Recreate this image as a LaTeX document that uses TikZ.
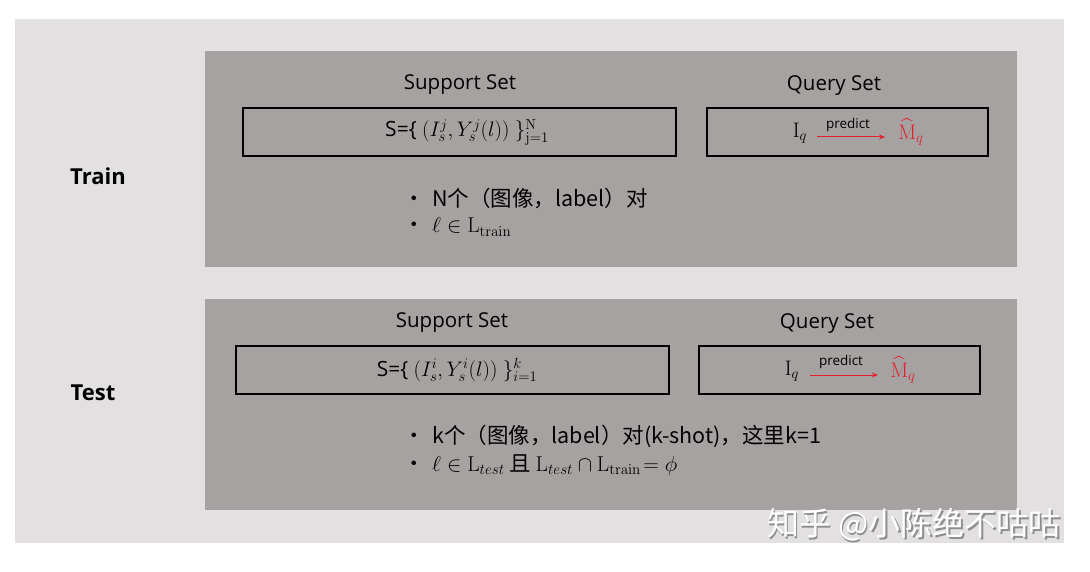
\RequirePackage{fix-cm}
\documentclass[tikz,border=0pt]{standalone}
\usepackage[no-math]{fontspec}
\setmainfont{Open Sans}
\newfontfamily\cjk{Noto Sans CJK SC}
\usepackage{amsmath}
\usetikzlibrary{arrows.meta}
\definecolor{bgout}{HTML}{E2E0E1}
\definecolor{panel}{HTML}{A6A2A1}
\definecolor{predred}{HTML}{E3202E}
\definecolor{wmshadow}{HTML}{8F8D8E}
\tikzset{
  base/.style={inner sep=0pt, text=black, font=\fontsize{20.5}{24}\selectfont},
  title/.style={base},
  mathtxt/.style={base, font=\fontsize{21}{25}\selectfont},
  rowlabel/.style={base, font=\fontsize{22}{26}\selectfont\bfseries},
  setbox/.style={draw=black, line width=2pt, fill=panel, inner sep=0pt},
  bullet/.style={base, anchor=west, font=\fontsize{21.5}{25}\selectfont\cjk},
  predarrow/.style={draw=predred, line width=1pt, -{Stealth[length=6pt,width=5pt]}},
  predlbl/.style={base, font=\fontsize{13.5}{15}\selectfont},
  wm/.style={inner sep=0pt, font=\fontsize{32}{36}\selectfont\cjk},
}
\begin{document}
\begin{tikzpicture}[x=1pt,y=-1pt]
\useasboundingbox (0,0) rectangle (1090,572);
\fill[white] (0,0) rectangle (1090,572);
\fill[bgout] (15,19) rectangle (1064,543);
% panels
\fill[panel] (205,51) rectangle (1017,267);
\fill[panel] (205,299) rectangle (1017,510);
% row labels
\node[rowlabel] (train) at (98,176) {Train};
\node[rowlabel] (test) at (93,393) {Test};
% ---- Train panel
\node[title] (trsuptitle) at (460,85) {Support Set};
\node[title] (trqtitle) at (834,86) {Query Set};
\node[setbox, minimum width=433pt, minimum height=48pt] (trsup) at (459.5,132) {};
\node[mathtxt] (trform) at (467,132) {S=\{ $(I_s^j, Y_s^j(l))\ \}_{\mathrm{j=1}}^{\mathrm{N}}$};
\node[setbox, minimum width=281pt, minimum height=48pt] (trq) at (847.5,132) {};
\node[mathtxt] (triq) at (800,133) {$\mathrm{I}_q$};
\node[mathtxt, text=predred] (trmq) at (911,132) {$\widehat{\mathrm{M}}_q$};
\coordinate (tra) at (817,137);
\coordinate (trb) at (885,137);
\draw[predarrow] (tra) -- (trb);
\node[predlbl] (trpred) at (848,125) {predict};
\node[bullet] (trb1) at (403,198) {\makebox[29pt][l]{•}N个（图像，label）对};
\node[bullet] (trb2) at (403,227) {\makebox[29pt][l]{•}$\ell \in \mathrm{L}_{\mathrm{train}}$};
% ---- Test panel
\node[title] (tesuptitle) at (452,323) {Support Set};
\node[title] (teqtitle) at (827,324) {Query Set};
\node[setbox, minimum width=433pt, minimum height=48pt] (tesup) at (452.5,370) {};
\node[mathtxt] (teform) at (457,370) {S=\{ $(I_s^i, Y_s^i(l))\ \}_{i=1}^{k}$};
\node[setbox, minimum width=281pt, minimum height=48pt] (teq) at (839.5,370) {};
\node[mathtxt] (teiq) at (792,371) {$\mathrm{I}_q$};
\node[mathtxt, text=predred] (temq) at (903,370) {$\widehat{\mathrm{M}}_q$};
\coordinate (tea) at (810,375);
\coordinate (teb) at (878,375);
\draw[predarrow] (tea) -- (teb);
\node[predlbl] (tepred) at (841,362) {predict};
\node[bullet] (teb1) at (403,436) {\makebox[29pt][l]{•}k个（图像，label）对(k-shot)，这里k=1};
\node[bullet] (teb2) at (403,465) {\makebox[29pt][l]{•}$\ell \in \mathrm{L}_{test}$ 且 $\mathrm{L}_{test} \cap \mathrm{L}_{\mathrm{train}}\!= \phi$};
% watermark
\node[wm, text=wmshadow, anchor=west] (wmsh) at (768.5,526.5) {知乎 @小陈绝不咕咕};
\node[wm, text=white, anchor=west] (wmk) at (767,525) {知乎 @小陈绝不咕咕};
\end{tikzpicture}
\end{document}
